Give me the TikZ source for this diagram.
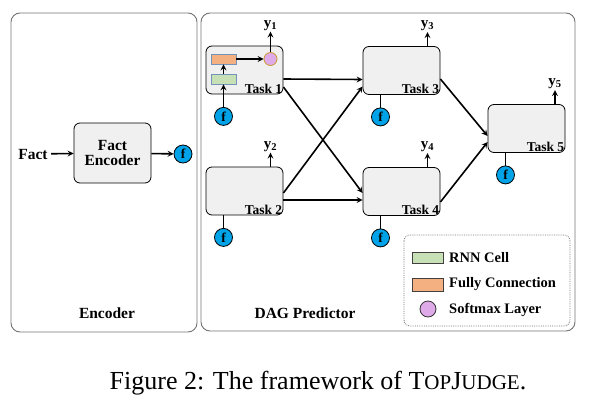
\documentclass[tikz,border=0pt]{standalone}
\usepackage{fontspec}
\setmainfont{Liberation Serif}
\usetikzlibrary{arrows, shapes, calc, fit, shapes.geometric}
\definecolor{mygray}{rgb}{0.94,0.94,0.94}
\definecolor{mypanel}{rgb}{0.45,0.45,0.45}
\definecolor{mycyan}{rgb}{0.00,0.64,0.91}
\definecolor{mygreen}{rgb}{0.78,0.88,0.71}
\definecolor{myorange}{rgb}{0.96,0.69,0.51}
\definecolor{mypurple}{rgb}{0.87,0.67,0.91}
\definecolor{myedge}{rgb}{0.45,0.58,0.72}
\definecolor{mygold}{rgb}{0.80,0.60,0.20}
\newcommand{\bigbf}{\fontsize{15.5}{17}\selectfont\bfseries}
\newcommand{\midbf}{\fontsize{13.5}{14}\selectfont\bfseries}

\begin{document}
\begin{tikzpicture}[x=1pt, y=-1pt]
\tikzset{PanelStyle/.style = {draw=mypanel, line width=0.9pt, rounded corners=9pt}}
\tikzset{TaskStyle/.style = {draw, fill=mygray, line width=0.8pt, rounded corners=6pt,
    minimum width=77pt, minimum height=48pt, inner sep=0pt}}
\tikzset{FeatStyle/.style = {draw, fill=mycyan, shape=circle, minimum size=18pt, inner sep=0pt,
    line width=0.8pt, font=\midbf}}
\tikzset{LabelStyle/.style = {text=black, font=\midbf, inner sep=1pt}}
\tikzset{CellStyle/.style = {draw=myedge, line width=0.8pt, minimum width=25pt, minimum height=10pt, inner sep=0pt}}
\tikzset{EdgeStyle/.style = {-stealth, line width=1.6pt}}
\useasboundingbox (0,0) rectangle (590,402);

% panels
\draw[PanelStyle] (11,13) rectangle (197,332);
\draw[PanelStyle] (201,13) rectangle (575,331);
\node[font=\bigbf] (enc-title) at (107,313) {Encoder};
\node[font=\bigbf] (dag-title) at (305,313) {DAG Predictor};

% encoder
\node[font=\bigbf] (fact) at (33,154) {Fact};
\node[TaskStyle, minimum height=60pt, font=\bigbf, align=center] (fact-enc) at (112.5,153) {Fact\\[-2pt]Encoder};
\node[FeatStyle] (fact-f) at (183,154) {f};
\draw[EdgeStyle] (fact) to (fact-enc);
\draw[EdgeStyle] (fact-enc) to (fact-f);

% tasks
\foreach \name/\x/\y/\yo in {1/244.5/70/26, 2/244.5/191/26, 3/401.5/70.5/26, 4/401.5/191.5/26, 5/526.5/128.5/28.5} {
    \node[TaskStyle] (G-task-\name) at (\x,\y) {};
    \node[LabelStyle, anchor=south east] (G-lab-\name) at (G-task-\name.south east) {Task \name};
    \node[FeatStyle] (G-f-\name) at ($(G-task-\name.south)+(-21,22)$) {f};
    \coordinate (G-out-\name) at ($(G-task-\name.north)+(\yo,0)$);
    \node[LabelStyle, font=\fontsize{15}{16}\selectfont\bfseries, anchor=south] (G-y-\name) at ($(G-out-\name)+(0,-14)$) {y\textsubscript{\name}};
    \draw[EdgeStyle] (G-out-\name) to (G-y-\name.south);
}
\foreach \name in {2,3,4,5}
    \draw[line width=1.4pt] (G-f-\name) to (G-f-\name |- G-task-\name.south);

% inside task 1
\node[CellStyle, fill=myorange] (G-fc) at (223.5,59) {};
\node[CellStyle, fill=mygreen] (G-rnn) at (223.5,79) {};
\node[draw=mygold, fill=mypurple, shape=circle, minimum size=13pt, inner sep=0pt, line width=0.8pt] (G-soft) at (G-out-1 |- G-fc) {};
\draw[EdgeStyle] (G-f-1) to (G-rnn);
\draw[EdgeStyle] (G-rnn) to (G-fc);
\draw[EdgeStyle] (G-fc) to (G-soft);
\draw[line width=1.6pt] (G-soft) to (G-out-1);

% dag edges
\coordinate (G-a1) at ($(G-task-1.east)+(0,9)$);
\coordinate (G-b1) at ($(G-task-1.east)+(0,17)$);
\coordinate (G-a2) at ($(G-task-2.east)+(0,2)$);
\coordinate (G-b2) at ($(G-task-2.east)+(0,9)$);
\coordinate (G-a3) at ($(G-task-3.west)+(0,9)$);
\coordinate (G-b3) at ($(G-task-3.west)+(0,16)$);
\coordinate (G-a4) at ($(G-task-4.west)+(0,1.5)$);
\coordinate (G-b4) at ($(G-task-4.west)+(0,8.5)$);
\coordinate (G-c3) at ($(G-task-3.east)+(0,8.5)$);
\coordinate (G-c4) at ($(G-task-4.east)+(0,10.5)$);
\coordinate (G-a5) at ($(G-task-5.west)+(0,7.5)$);
\coordinate (G-b5) at ($(G-task-5.west)+(0,13.5)$);
\draw[EdgeStyle] (G-a1) to (G-a3);
\draw[EdgeStyle] (G-b1) to (G-a4);
\draw[EdgeStyle] (G-a2) to (G-b3);
\draw[EdgeStyle] (G-b2) to (G-b4);
\draw[EdgeStyle] (G-c3) to (G-a5);
\draw[EdgeStyle] (G-c4) to (G-b5);

% legend
\draw[draw=mypanel, densely dotted, line width=0.8pt, rounded corners=6pt] (404,235) rectangle (570,326);
\node[CellStyle, draw=black!75, fill=mygreen, minimum width=31pt, minimum height=11pt] (leg-rnn) at (427.5,257.5) {};
\node[CellStyle, draw=black!75, fill=myorange, minimum width=31pt, minimum height=13pt] (leg-fc) at (427.5,284.5) {};
\node[draw=black!80, fill=mypurple, shape=circle, minimum size=16pt, inner sep=0pt, line width=0.8pt] (leg-soft) at (428,309) {};
\node[font=\fontsize{14.5}{16}\selectfont\bfseries, anchor=west, inner sep=0pt] (leg-rnn-t) at (449,257.5) {RNN Cell};
\node[font=\fontsize{14.5}{16}\selectfont\bfseries, anchor=west, inner sep=0pt] (leg-fc-t) at (449,284.5) {Fully Connection};
\node[font=\fontsize{14.5}{16}\selectfont\bfseries, anchor=west, inner sep=0pt] (leg-soft-t) at (449,310) {Softmax Layer};

% caption
\node[font=\fontsize{26}{28}\selectfont] (caption) at (318,383)
    {Figure 2: The framework of T{\fontsize{21}{22}\selectfont OP}J{\fontsize{21}{22}\selectfont UDGE}.};
\end{tikzpicture}
\end{document}
